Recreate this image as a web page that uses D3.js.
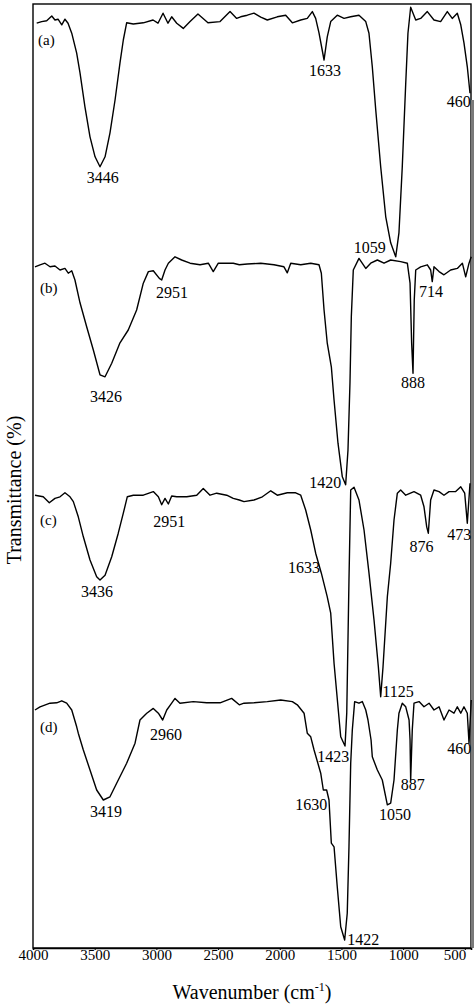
<html>

<head>
    <script src="https://d3js.org/d3.v7.min.js"></script>
    <style>
        body { margin: 0; background: white; }
    </style>
</head>

<body>
    <svg id="chart" width="474" height="1006"></svg>
    <script>
        // x tick labels (wavenumber, cm-1)
        const xTicks = [4000, 3500, 3000, 2500, 2000, 1500, 1000, 500];

        // panel names
        const panelNames = ["(a)", "(b)", "(c)", "(d)"];
        // where each panel name sits: [wavenumber, offset transmittance]
        const panelSpots = [[3959, 225.8], [3943, 163.8], [3943, 105.8], [3943, 54.1]];

        // spectra: [wavenumber, offset transmittance (a.u.)]
        const traceA = [
            [3970, 231.2], [3930, 231.6], [3889, 231.8], [3848, 233], [3822, 232], [3797, 232.2],
            [3767, 230.8], [3741, 232.2], [3716, 231.2], [3686, 228.7], [3646, 223.7], [3619, 218.8],
            [3579, 210.3], [3538, 202.8], [3497, 197.8], [3457, 195.3], [3416, 197.8], [3376, 203.8],
            [3335, 212], [3295, 221.3], [3268, 227], [3241, 231.3], [3187, 231], [3106, 231.3],
            [3027, 232], [2987, 231.2], [2946, 233.7], [2906, 231.2], [2876, 232.8], [2835, 231.2],
            [2782, 229.9], [2727, 231.6], [2663, 233.5], [2582, 231.3], [2484, 231.6], [2403, 234.1],
            [2349, 232.4], [2317, 232.8], [2263, 233.2], [2209, 233.7], [2154, 232.7], [2101, 232],
            [2020, 232.8], [1952, 233.2], [1898, 231.3], [1830, 232], [1777, 232.4], [1736, 234.1],
            [1709, 232.4], [1682, 228.8], [1641, 222], [1615, 227.8], [1587, 231.6], [1534, 233.2],
            [1479, 232.4], [1425, 232.8], [1358, 233.2], [1303, 231.6], [1277, 228.7], [1250, 220.3],
            [1222, 209.5], [1182, 195.3], [1141, 182.8], [1101, 176.3], [1060, 172.8], [1034, 178.8],
            [1007, 195.3], [979, 216.2], [961, 228.7], [939, 235.2], [898, 232], [858, 232.4],
            [804, 234.1], [750, 232], [696, 231.6], [642, 234.1], [602, 232.4], [561, 233.7],
            [533, 230.8], [507, 226.3], [480, 220.3], [458, 213.7]
        ];
        const traceB = [
            [3984, 170.3], [3943, 170.8], [3903, 171.2], [3862, 170.3], [3822, 170.5], [3781, 169.5],
            [3741, 169.9], [3714, 168.7], [3686, 169.3], [3660, 167], [3619, 161.3], [3565, 155.3],
            [3511, 149.5], [3457, 143.3], [3416, 142.8], [3362, 146.2], [3295, 151.3], [3228, 154.5],
            [3160, 159.5], [3106, 166.2], [3065, 169.1], [3025, 169.3], [2976, 167.4], [2957, 167],
            [2930, 169.5], [2903, 171.2], [2849, 172.8], [2795, 172], [2727, 171.2], [2646, 170.8],
            [2579, 171.2], [2539, 169.1], [2498, 171.2], [2430, 171.2], [2377, 171.2], [2328, 170.8],
            [2263, 171], [2154, 171.2], [2047, 170.8], [1966, 170.3], [1939, 168.8], [1911, 171.2],
            [1830, 170.8], [1749, 171.2], [1682, 170.8], [1663, 168.7], [1641, 159.5], [1615, 151.2],
            [1582, 145.3], [1560, 137], [1528, 126.2], [1493, 117.8], [1466, 115.8], [1447, 124.5],
            [1431, 141.2], [1420, 157.8], [1404, 169.5], [1358, 172.4], [1303, 169.9], [1263, 171.2],
            [1209, 172], [1155, 171.2], [1101, 172], [1020, 171.6], [966, 171.2], [944, 166.2],
            [931, 151.2], [920, 143.7], [910, 162], [898, 169.5], [858, 170.3], [804, 170.8],
            [777, 169.5], [764, 166.6], [750, 170.3], [709, 169.1], [669, 168.3], [615, 169.5],
            [561, 169.9], [520, 171.2], [493, 167.8], [466, 171.2], [448, 172.8]
        ];
        const traceC = [
            [3984, 113.2], [3917, 112.8], [3868, 111.3], [3822, 112.4], [3781, 112.8], [3741, 113.8],
            [3700, 112.8], [3673, 111.6], [3633, 107.8], [3592, 102.8], [3538, 97], [3484, 92.8],
            [3457, 92], [3416, 93.2], [3362, 97.8], [3309, 103.7], [3268, 108.7], [3236, 112.8],
            [3187, 113.2], [3106, 113.2], [3025, 114.1], [2984, 112.8], [2957, 110.8], [2930, 112.4],
            [2903, 111], [2876, 113], [2835, 112.8], [2754, 112.8], [2673, 113.2], [2620, 114.9],
            [2565, 113.2], [2511, 113.7], [2430, 113.2], [2377, 112.4], [2328, 112], [2290, 111.6],
            [2209, 112], [2141, 112.8], [2073, 114.3], [2020, 113.2], [1939, 113.8], [1871, 113.8],
            [1830, 113.2], [1790, 109.5], [1749, 104.5], [1709, 98.7], [1663, 93.7], [1615, 87.8],
            [1587, 83.7], [1560, 71.2], [1506, 52.8], [1471, 50.5], [1457, 58.8], [1439, 92],
            [1425, 114.5], [1398, 115.2], [1358, 112], [1317, 104.5], [1277, 93.8], [1236, 82],
            [1201, 70.3], [1182, 62.8], [1163, 70.3], [1128, 87.8], [1101, 96.2], [1074, 107],
            [1047, 113.7], [1020, 114.5], [979, 113.2], [912, 114.1], [858, 113.2], [831, 110.3],
            [809, 105.3], [796, 103.7], [777, 112], [750, 114.5], [709, 114.1], [669, 113.2],
            [628, 114.1], [574, 114.1], [533, 115.3], [501, 113.7], [480, 106.2], [458, 116.2]
        ];
        const traceD = [
            [3984, 59.5], [3943, 60.3], [3862, 61.2], [3808, 61.3], [3767, 61.8], [3727, 61.2],
            [3686, 59.5], [3646, 55.3], [3633, 53.7], [3592, 49.5], [3538, 44.5], [3484, 39.5],
            [3430, 37], [3376, 37.8], [3322, 41.2], [3241, 46.2], [3173, 51.2], [3133, 57],
            [3078, 58.7], [3025, 59.9], [2984, 58.7], [2949, 57], [2916, 59.5], [2876, 61.2],
            [2849, 62.4], [2809, 61.2], [2701, 61.6], [2592, 61.3], [2484, 61.3], [2390, 62.4],
            [2328, 60.8], [2290, 61.2], [2209, 61.3], [2101, 61.6], [1992, 62], [1898, 61.6],
            [1858, 60.8], [1803, 58.7], [1777, 53.7], [1749, 52.8], [1722, 49.5], [1668, 43.7],
            [1647, 39.5], [1620, 39.5], [1601, 37], [1582, 26.2], [1560, 25.3], [1534, 15.3],
            [1506, 5.3], [1474, 2], [1453, 8.7], [1439, 25.3], [1425, 46.2], [1412, 54.5],
            [1393, 61.6], [1358, 61.2], [1331, 61.6], [1303, 59.5], [1285, 57], [1260, 52],
            [1250, 47.8], [1209, 44.5], [1169, 42], [1128, 35.8], [1101, 36.2], [1074, 42],
            [1047, 54.5], [1034, 58.7], [1007, 61.2], [979, 60.3], [952, 57], [944, 52],
            [939, 42], [926, 54.5], [912, 61.2], [871, 61.6], [831, 60.3], [790, 61.2],
            [750, 59.5], [709, 60.3], [669, 57], [628, 59.5], [588, 58.7], [561, 60.3],
            [533, 58.7], [507, 60.3], [480, 58.7], [466, 51.2], [448, 62]
        ];
        const traces = [traceA, traceB, traceC, traceD];

        // peak labels: [text, wavenumber, offset transmittance, anchor]
        const peakLabels = [
            ["3446", 3435, 191.3, "middle"], ["1633", 1633, 218, "middle"],
            ["1059", 1141, 173.8, "end"], ["460", 452, 210.3, "end"],
            ["3426", 3408, 136.6, "middle"], ["2951", 3003, 162.4, "start"],
            ["1420", 1501, 114.9, "end"], ["888", 920, 139.9, "middle"],
            ["714", 871, 162.8, "start"],
            ["3436", 3481, 87.7, "middle"], ["2951", 3025, 105.3, "start"],
            ["1633", 1674, 93.7, "end"], ["1423", 1696, 46.6, "start"],
            ["1125", 1169, 62.8, "start"], ["876", 851, 99.1, "middle"],
            ["473", 448, 102, "end"],
            ["2960", 3052, 52, "start"], ["3419", 3408, 32.7, "middle"],
            ["1630", 1615, 34.5, "end"], ["1422", 1453, 0.8, "start"],
            ["1050", 1066, 32, "middle"], ["887", 923, 39.5, "middle"],
            ["460", 448, 48.5, "end"]
        ];

        const plotLeft = 33, plotRight = 471, plotTop = 4, plotBottom = 948;
        const serif = "'Liberation Serif', 'Times New Roman', serif";

        let svg = d3.select("#chart");

        let xScale = d3.scaleLinear()
            .domain([4000, 450])
            .range([plotLeft, plotRight]);
        let yScale = d3.scaleLinear()
            .domain([0, 236])
            .range([plotBottom, plotTop]);

        // frame
        svg.append("rect")
            .attr("x", plotLeft)
            .attr("y", plotTop)
            .attr("width", plotRight - plotLeft)
            .attr("height", plotBottom - plotTop)
            .attr("fill", "none")
            .attr("stroke", "black")
            .attr("stroke-width", 1.4);
        // scanned right edge is a thick grey bar
        svg.append("rect")
            .attr("x", plotRight)
            .attr("y", 100)
            .attr("width", 3)
            .attr("height", plotBottom - 100)
            .attr("fill", "#7a7a7a");

        // x axis
        let xAxis = svg.append("g")
            .attr("transform", `translate(0,${plotBottom})`)
            .call(d3.axisBottom(xScale).tickValues(xTicks).tickSize(2).tickFormat(d3.format("d")));
        xAxis.select(".domain").attr("stroke", "black").attr("stroke-width", 1.6);
        xAxis.selectAll("text")
            .attr("y", 12)
            .attr("dy", 0)
            .attr("font-family", serif)
            .attr("font-size", "15px")
            .attr("fill", "black");
        // last label sits against the right edge
        xAxis.selectAll(".tick")
            .filter(d => d == 500)
            .select("text")
            .attr("text-anchor", "end")
            .attr("dx", 1);

        // spectra
        let line = d3.line()
            .x(d => xScale(d[0]))
            .y(d => yScale(d[1]));

        traces.forEach((t, i) => {
            svg.append("path")
                .datum(t)
                .attr("d", line)
                .attr("fill", "none")
                .attr("stroke", "black")
                .attr("stroke-width", 1.4)
                .attr("stroke-linejoin", "round");
        });

        // panel names
        panelNames.forEach((name, i) => {
            svg.append("text")
                .attr("x", xScale(panelSpots[i][0]))
                .attr("y", yScale(panelSpots[i][1]))
                .attr("font-family", serif)
                .attr("font-size", "15px")
                .text(name);
        });

        // peak labels
        peakLabels.forEach(d => {
            svg.append("text")
                .attr("x", xScale(d[1]))
                .attr("y", yScale(d[2]))
                .attr("text-anchor", d[3])
                .attr("font-family", serif)
                .attr("font-size", "16px")
                .text(d[0]);
        });

        // axis titles
        let xTitle = svg.append("text")
            .attr("x", (plotLeft + plotRight) / 2)
            .attr("y", 999)
            .attr("text-anchor", "middle")
            .attr("font-family", serif)
            .attr("font-size", "20px")
            .text("Wavenumber (cm");
        xTitle.append("tspan")
            .attr("font-size", "12px")
            .attr("dy", -8)
            .text("-1");
        xTitle.append("tspan")
            .attr("dy", 8)
            .text(")");

        svg.append("text")
            .attr("transform", "translate(21,490) rotate(-90)")
            .attr("text-anchor", "middle")
            .attr("font-family", serif)
            .attr("font-size", "20px")
            .text("Transmittance (%)");
    </script>
</body>

</html>
